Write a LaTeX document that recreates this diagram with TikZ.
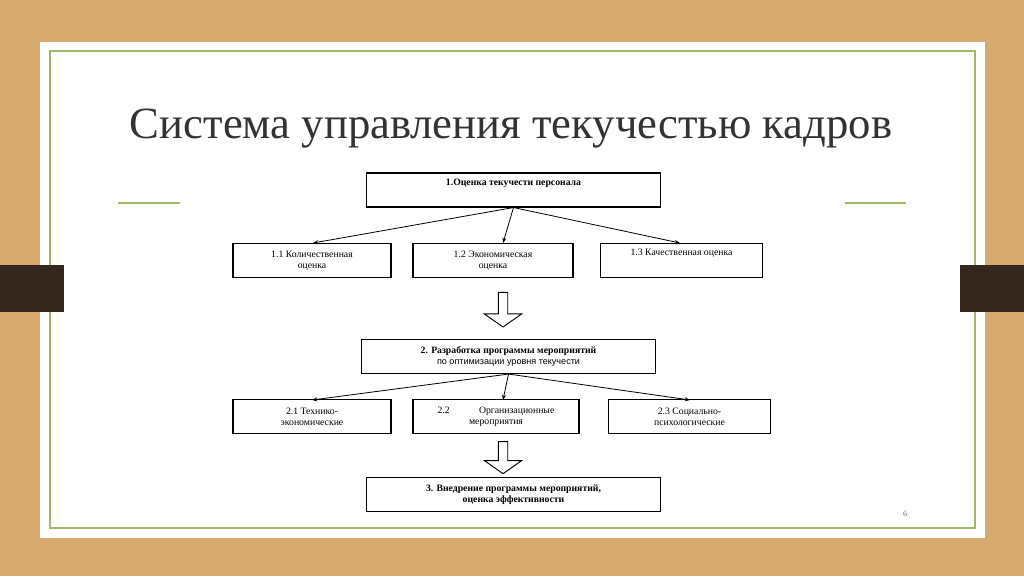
\documentclass[tikz,border=0pt]{standalone}
\usepackage{fontspec}
\setmainfont{Liberation Serif}
\setsansfont{Liberation Sans}
\usetikzlibrary{arrows.meta,shapes.arrows}
\definecolor{wood}{RGB}{214,170,110}
\definecolor{tab}{RGB}{52,40,30}
\definecolor{slidegreen}{RGB}{160,185,100}
\tikzset{every picture/.style={line width=0.75pt},
  box/.style={draw,line width=0.8pt,minimum height=25.5pt,align=center,inner sep=1pt,font=\fontsize{7.3}{8.3}\selectfont},
  conn/.style={-{Stealth[length=4pt,width=3pt]},line width=0.6pt},
  hollow/.style={draw,fill=white,line width=0.7pt,single arrow,shape border rotate=270,single arrow head extend=4pt,minimum width=28pt,single arrow tip angle=110,minimum height=26pt,inner sep=1pt}}
\begin{document}
\begin{tikzpicture}[x=0.75pt,y=0.75pt,yscale=-1,xscale=1]
	\useasboundingbox (0,0) rectangle (1024,576);
	%Background
	\fill[wood] (0,0) rectangle (1024,576);
	%Slide
	\fill[white] (40,42) rectangle (985,538);
	\draw[slidegreen,line width=1.5pt] (50,51) rectangle (975,528);
	\fill[tab] (0,265) rectangle (64,312);
	\fill[tab] (960,265) rectangle (1024,312);
	\draw[slidegreen,line width=1.5pt] (118,203) -- (180,203);
	\draw[slidegreen,line width=1.5pt] (845,203) -- (906,203);
	\node (title) at (511,129) [font=\fontsize{33.5}{40}\selectfont, text=black!80] {Система управления текучестью кадров};
	\node (pagenum) at (905,514) [font=\fontsize{6}{7}\selectfont, text=black!60] {6};
	
	% Level 1
	\node (b1) at (513.5,190) [box,minimum width=220pt] {\bfseries 1.Оценка текучести персонала\\[4pt]};
	\node (b11) at (312,260.5) [box,minimum width=118.5pt] {1.1 Количественная\\оценка};
	\node (b12) at (493,260.5) [box,minimum width=120pt] {1.2 Экономическая\\оценка};
	\node (b13) at (681.5,260.5) [box,minimum width=122pt] {1.3 Качественная оценка\\[4pt]};
	\draw[conn] (b1.south) -- (313,243);
	\draw[conn] (b1.south) -- (503,243);
	\draw[conn] (b1.south) -- (680,243);
	\node (arr1) at (503,308) [hollow] {};
	
	% Level 2
	\node (b2) at (508.5,356.5) [box,minimum width=220pt] {\bfseries 2. Разработка программы мероприятий\\\sffamily\fontsize{6.8}{8}\selectfont по оптимизации уровня текучести};
	\node (b21) at (312,416.5) [box,minimum width=118.5pt] {2.1 Технико-\\экономические};
	\node (b22) at (496,416.5) [box,minimum width=124.5pt] {2.2\hspace{3em}Организационные\\мероприятия\hspace{6em}};
	\node (b23) at (689.5,416.5) [box,minimum width=122pt] {2.3 Социально-\\психологические};
	\draw[conn] (b2.south) -- (312,400);
	\draw[conn] (b2.south) -- (503,400);
	\draw[conn] (b2.south) -- (690,400);
	\node (arr2) at (503,456) [hollow,minimum height=24pt] {};
	
	% Level 3
	\node (b3) at (513.5,494.5) [box,minimum width=220pt] {\bfseries 3. Внедрение программы мероприятий,\\\bfseries оценка эффективности};
\end{tikzpicture}
\end{document}
